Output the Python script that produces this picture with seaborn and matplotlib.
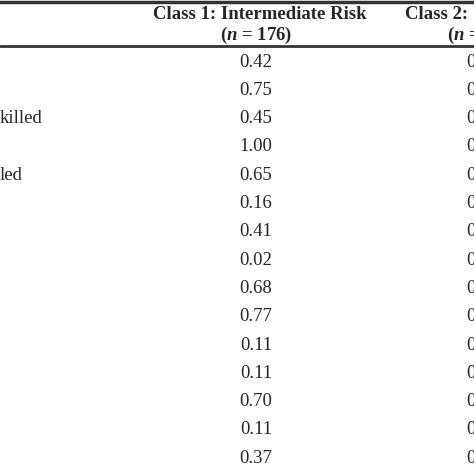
import matplotlib
matplotlib.use("Agg")
import matplotlib.pyplot as plt
import seaborn as sns

sns.set_style("white")
plt.rcParams['font.family'] = ['Liberation Serif', 'DejaVu Serif']
plt.rcParams['mathtext.fontset'] = 'custom'
plt.rcParams['mathtext.bfit'] = 'Liberation Serif:bold:italic'
plt.rcParams['mathtext.it'] = 'Liberation Serif:italic'

class1_values = [0.42, 0.75, 0.45, 1.00, 0.65, 0.16, 0.41, 0.02, 0.68, 0.77, 0.11, 0.11, 0.70, 0.11, 0.37]
class2_stub = ["0."] * len(class1_values)
row_labels = ["", "", "killed", "", "led", "", "", "", "", "", "", "", "", "", ""]

fig = plt.figure(figsize=(4.74, 4.74), dpi=100)
ax = fig.add_axes([0, 0, 1, 1])
ax.set_xlim(0, 474)
ax.set_ylim(474, 0)
ax.axis("off")

fs = 13.5
ax.axhline(1.5, color="#333333", lw=2.5)
ax.axhline(45.5, color="#333333", lw=2)
ax.text(260, 14, "Class 1: Intermediate Risk", ha="center", va="center", fontsize=fs, fontweight="bold")
ax.text(256, 35, "($\\mathbfit{n}$ = 176)", ha="center", va="center", fontsize=fs, fontweight="bold")
ax.text(405, 14, "Class 2: ", ha="left", va="center", fontsize=fs, fontweight="bold")
ax.text(447, 35, "($\\mathbfit{n}$ =", ha="left", va="center", fontsize=fs, fontweight="bold")

for i, (v, s, lab) in enumerate(zip(class1_values, class2_stub, row_labels)):
    y = 62 + i * 28.3
    ax.text(256, y, f"{v:.2f}", ha="center", va="center", fontsize=fs)
    ax.text(466, y, s, ha="left", va="center", fontsize=fs)
    if lab:
        ax.text(0, y, lab, ha="left", va="center", fontsize=fs)

fig.savefig("out.png", dpi=100)
